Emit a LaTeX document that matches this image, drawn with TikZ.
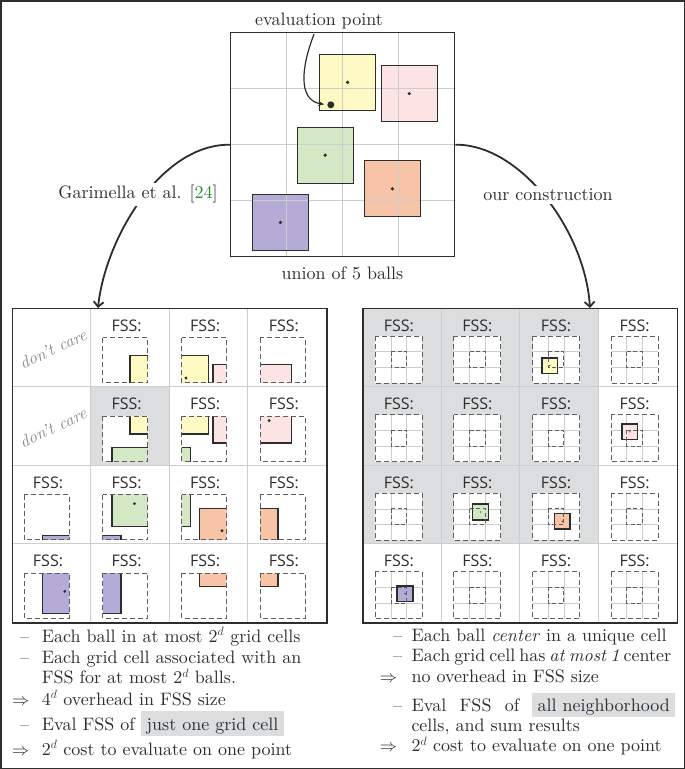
\documentclass[tikz,border=0pt]{standalone}
\usepackage{fontspec}
\setmainfont{lmroman10-regular.otf}[ItalicFont=lmroman10-italic.otf, BoldFont=lmroman10-bold.otf]
\newfontfamily\fssfont{Open Sans}
\usetikzlibrary{arrows.meta,calc}
\definecolor{yball}{RGB}{255,249,196}
\definecolor{pball}{RGB}{252,228,228}
\definecolor{gball}{RGB}{212,232,197}
\definecolor{oball}{RGB}{248,196,168}
\definecolor{vball}{RGB}{180,172,214}
\definecolor{ink}{RGB}{45,45,45}
\definecolor{gridc}{RGB}{205,205,205}
\definecolor{hilite}{RGB}{220,221,223}
\definecolor{citegreen}{RGB}{40,140,50}
\definecolor{dashc}{RGB}{95,95,95}
\definecolor{dcgray}{RGB}{140,140,140}
\tikzset{
  frame/.style={draw=ink, line width=1.4pt},
  gridln/.style={draw=gridc, line width=0.8pt},
  ball/.style={draw=ink, line width=1.3pt},
  dashsq/.style={draw=dashc, dash pattern=on 5pt off 3pt, line width=0.9pt},
  fss/.style={font=\fssfont\fontsize{16}{18}\selectfont, text=ink, anchor=base, inner sep=0pt},
  txt/.style={font=\fontsize{18}{21}\selectfont, text=ink, anchor=base west, inner sep=0pt},
  lbl/.style={font=\fontsize{18}{21}\selectfont, text=ink, fill=white, inner sep=2.5pt},
  conn/.style={draw=ink, line width=1.8pt, -{Straight Barb[length=5pt,width=10pt]}},
  hlbox/.style={txt, fill=hilite, inner xsep=5.5pt, inner ysep=0pt, text height=19pt, text depth=5.5pt},
  dontcare/.style={font=\fontsize{17}{20}\selectfont\itshape, text=dcgray, rotate=25, inner sep=0pt}
}
\def\balllist{2.1/0.9/yball,3.2/1.1/pball,1.7/2.2/gball,2.9/2.8/oball,0.9/3.4/vball}
\newcommand\LeftFSS[2]{%
  \pgfmathsetmacro\xo{12+78.6*#1}\pgfmathsetmacro\yo{308+78.6*#2}%
  \node[fss] (L-#1-#2) at (\xo+36,\yo+23) {FSS:};
  \begin{scope}[shift={(\xo+12.3,\yo+29.5)},x=45pt,y=-45pt]
    \fill[white] (0,0) rectangle (1,1);
    \begin{scope}
      \clip (0,0) rectangle (1,1);
      \begin{scope}[shift={(-#1,-#2)}]
        \foreach \bx/\by/\bc in \balllist {%
          \filldraw[ball, fill=\bc] (\bx-0.5,\by-0.5) rectangle (\bx+0.5,\by+0.5);
          \fill[ink] (\bx,\by) circle[radius=1.6pt];
        }
      \end{scope}
    \end{scope}
    \draw[dashsq] (0,0) rectangle (1,1);
  \end{scope}
}
\newcommand\RightFSS[2]{%
  \pgfmathsetmacro\xo{362.3+78.6*#1}\pgfmathsetmacro\yo{308+78.6*#2}%
  \node[fss] (R-#1-#2) at (\xo+36.5,\yo+23) {FSS:};
  \begin{scope}[shift={(\xo+13,\yo+28)},x=15.667pt,y=-15.667pt]
    \fill[white] (0,0) rectangle (3,3);
    \foreach \i in {1,2} {\draw[gridln, line width=0.6pt] (\i,0) -- (\i,3); \draw[gridln, line width=0.6pt] (0,\i) -- (3,\i);}
    \foreach \bx/\by/\bc in \balllist {%
      \pgfmathtruncatemacro\bi{floor(\bx)}\pgfmathtruncatemacro\bj{floor(\by)}%
      \ifnum\bi=#1\relax\ifnum\bj=#2\relax
        \filldraw[ball, line width=1.5pt, fill=\bc] (\bx-#1+0.5,\by-#2+0.5) rectangle (\bx-#1+1.5,\by-#2+1.5);
        \fill[ink] (\bx-#1+1,\by-#2+1) circle[radius=0.7pt];
      \fi\fi
    }
    \draw[dashsq, line width=0.8pt, dash pattern=on 4pt off 2.5pt] (1,1) rectangle (2,2);
    \draw[dashsq] (0,0) rectangle (3,3);
  \end{scope}
}
\begin{document}
\begin{tikzpicture}[x=1pt,y=-1pt]
\useasboundingbox (0,0) rectangle (685,769);
\draw[draw=ink, line width=1.5pt] (0.75,0.75) rectangle (684.25,768.25);

% ---------- top grid ----------
\begin{scope}[shift={(230,32)},x=56pt,y=-56pt]
  \foreach \bx/\by/\bc in \balllist {\fill[\bc] (\bx-0.5,\by-0.5) rectangle (\bx+0.5,\by+0.5);}
  \foreach \i in {1,2,3} {\draw[gridln] (\i,0) -- (\i,4); \draw[gridln] (0,\i) -- (4,\i);}
  \foreach \bx/\by/\bc in \balllist {%
    \draw[ball] (\bx-0.5,\by-0.5) rectangle (\bx+0.5,\by+0.5);
    \fill[ink] (\bx,\by) circle[radius=1.8pt];
  }
  \node[frame, minimum size=224pt, inner sep=0pt, anchor=north west] (top) at (0,0) {};
  \node[circle, fill=ink, minimum size=7pt, inner sep=0pt] (evp) at (1.8,1.3) {};
\end{scope}
\node[txt, anchor=base] (ev) at (319,25) {evaluation point};
\draw[draw=ink, line width=1.2pt, -{Stealth[length=6pt,width=5pt]}, shorten >=3pt]
  ($(ev.south)+(-5,5.5)$) .. controls (302,65) and (297,100) .. (evp.west);
\node[txt, anchor=base] (un) at (342.5,279) {union of 5 balls};

% ---------- left panel ----------
\fill[hilite] (12+78.6,308+78.6) rectangle (12+2*78.6,308+2*78.6);
\foreach \c in {0,...,3} {\foreach \r in {0,...,3} {%
  \ifnum\c=0\relax\ifnum\r<2\relax\else\LeftFSS{\c}{\r}\fi\else\LeftFSS{\c}{\r}\fi
}}
\node[dontcare] (dc0) at (53,349) {don't care};
\node[dontcare] (dc1) at (53,427.6) {don't care};
\foreach \i in {1,2,3} {%
  \draw[gridln] (12+78.6*\i,308) -- (12+78.6*\i,622.4);
  \draw[gridln] (12,308+78.6*\i) -- (326.4,308+78.6*\i);
}
\node[frame, minimum width=314.4pt, minimum height=314.4pt, inner sep=0pt, anchor=north west] (LP) at (12,308) {};

% ---------- right panel ----------
\fill[hilite] (362.3,308) rectangle (362.3+3*78.6,308+3*78.6);
\foreach \c in {0,...,3} {\foreach \r in {0,...,3} {\RightFSS{\c}{\r}}}
\foreach \i in {1,2,3} {%
  \draw[gridln] (362.3+78.6*\i,308) -- (362.3+78.6*\i,622.4);
  \draw[gridln] (362.3,308+78.6*\i) -- (676.7,308+78.6*\i);
}
\node[frame, minimum width=314.4pt, minimum height=314.4pt, inner sep=0pt, anchor=north west] (RP) at (362.3,308) {};

% ---------- connectors ----------
\coordinate (LA) at (98,308);
\coordinate (RA) at (590,308);
\draw[conn] (top.west) .. controls (160,144) and (105,240) .. (LA);
\draw[conn] (top.east) .. controls (520,144) and (585,230) .. (RA);
\node[lbl] (gar) at (138,194) {Garimella et al. [\textcolor{citegreen}{24}]};
\node[lbl] (our) at (548,195) {our construction};

% ---------- left text ----------
\node[txt] (l1d) at (20,642) {--};
\node[txt] (l1) at (41.7,642) {Each ball in at most 2$^d$ grid cells};
\node[txt] (l2d) at (20,663) {--};
\node[txt] (l2) at (41.7,663) {Each grid cell associated with an};
\node[txt] (l3) at (41.7,683.5) {FSS for at most 2$^d$ balls.};
\node[txt] (l4d) at (12,705) {$\Rightarrow$};
\node[txt] (l4) at (41.7,705) {4$^d$ overhead in FSS size};
\node[txt] (l5d) at (20,730) {--};
\node[txt] (l5) at (41.7,730) {Eval FSS of};
\node[hlbox] (l5h) at (141,730) {just one grid cell};
\node[txt] (l6d) at (12,755) {$\Rightarrow$};
\node[txt] (l6) at (41.7,755) {2$^d$ cost to evaluate on one point};

% ---------- right text ----------
\node[txt] (r1d) at (393,641.7) {--};
\node[txt] (r1) at (411.3,641.7) {Each ball \textit{center} in a unique cell};
\node[txt] (r2d) at (393,661.7) {--};
\node[txt] (r2) at (411.3,661.7) {\hbox to 259pt{Each grid cell has \textit{at most 1} center}};
\node[txt] (r3d) at (379.7,682.7) {$\Rightarrow$};
\node[txt] (r3) at (411.3,682.7) {no overhead in FSS size};
\node[txt] (r4d) at (393,711.7) {--};
\node[txt] (r4) at (411.3,711.7) {\hbox to 108pt{Eval\hfil FSS\hfil of}};
\node[hlbox] (r4h) at (532,711.7) {all neighborhood};
\node[txt] (r5) at (411.3,731.7) {cells, and sum results};
\node[txt] (r6d) at (379.7,751.7) {$\Rightarrow$};
\node[txt] (r6) at (411.3,751.7) {2$^d$ cost to evaluate on one point};
\end{tikzpicture}
\end{document}
